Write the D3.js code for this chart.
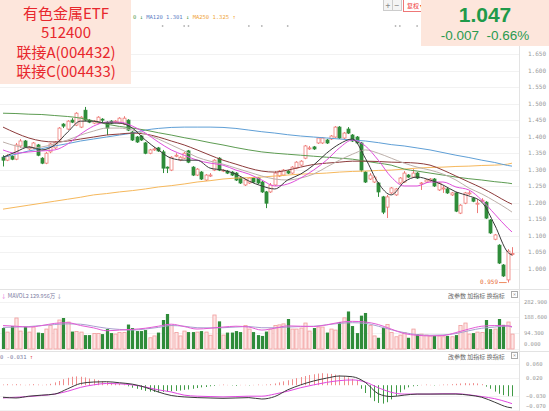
<!DOCTYPE html>
<html>
<head>
<meta charset="utf-8">
<script src="https://cdn.jsdelivr.net/npm/d3@7"></script>
<style>
  body { margin: 0; background: #fff; }
  svg { display: block; font-family: "DejaVu Sans Mono", monospace; }
  .cjk { font-family: "Noto Sans CJK SC", sans-serif; }
</style>
</head>
<body>
<svg id="chart" width="549" height="411"></svg>
<script>
// ---- data ----
var candleOpen = [1.338,1.329,1.341,1.332,1.372,1.387,1.363,1.366,1.375,1.335,1.320,1.354,1.366,1.390,1.438,1.423,1.450,1.435,1.429,1.480,
  1.450,1.441,1.441,1.453,1.444,1.447,1.444,1.441,1.438,1.450,1.414,1.399,1.402,1.381,1.350,1.360,1.366,1.354,1.308,1.299,
  1.341,1.329,1.335,1.357,1.308,1.284,1.293,1.269,1.281,1.299,1.335,1.296,1.296,1.293,1.290,1.275,1.254,1.260,1.275,1.275,
  1.263,1.233,1.233,1.254,1.281,1.284,1.296,1.290,1.305,1.314,1.335,1.363,1.369,1.381,1.381,1.390,1.393,1.399,1.429,1.396,
  1.423,1.405,1.399,1.381,1.293,1.272,1.263,1.260,1.218,1.187,1.230,1.224,1.260,1.263,1.284,1.278,1.290,1.257,1.263,1.266,
  1.272,1.239,1.242,1.242,1.224,1.230,1.169,1.199,1.227,1.214,1.196,1.205,1.202,1.148,1.090,1.072,1.012,0.967,1.045];
var candleClose = [1.329,1.341,1.332,1.375,1.387,1.369,1.369,1.381,1.344,1.320,1.350,1.378,1.384,1.426,1.432,1.447,1.444,1.471,1.459,1.450,
  1.444,1.447,1.459,1.450,1.426,1.441,1.447,1.456,1.456,1.420,1.390,1.384,1.390,1.350,1.360,1.363,1.357,1.305,1.305,1.338,
  1.344,1.338,1.350,1.323,1.284,1.302,1.272,1.284,1.284,1.329,1.299,1.299,1.290,1.284,1.269,1.260,1.269,1.275,1.263,1.260,
  1.233,1.199,1.254,1.290,1.296,1.299,1.290,1.308,1.323,1.326,1.372,1.366,1.363,1.396,1.396,1.381,1.402,1.429,1.396,1.411,
  1.411,1.387,1.381,1.299,1.263,1.284,1.278,1.233,1.172,1.218,1.245,1.242,1.275,1.290,1.278,1.290,1.275,1.260,1.269,1.272,
  1.251,1.260,1.245,1.230,1.230,1.175,1.193,1.230,1.230,1.205,1.199,1.208,1.154,1.109,1.103,1.018,0.979,1.054,1.047];
var candleHigh = [1.344,1.347,1.344,1.381,1.393,1.390,1.372,1.384,1.378,1.338,1.354,1.381,1.387,1.429,1.441,1.450,1.456,1.474,1.462,1.490,
  1.453,1.450,1.462,1.456,1.447,1.450,1.450,1.459,1.462,1.453,1.417,1.402,1.405,1.384,1.363,1.369,1.369,1.360,1.310,1.341,
  1.350,1.341,1.354,1.360,1.311,1.305,1.296,1.287,1.290,1.332,1.338,1.302,1.299,1.296,1.293,1.278,1.272,1.278,1.278,1.278,
  1.266,1.236,1.260,1.296,1.299,1.302,1.299,1.311,1.326,1.329,1.375,1.372,1.372,1.399,1.399,1.393,1.405,1.432,1.432,1.414,
  1.429,1.408,1.402,1.384,1.296,1.290,1.281,1.263,1.221,1.224,1.248,1.245,1.278,1.296,1.287,1.302,1.293,1.263,1.272,1.275,
  1.275,1.263,1.251,1.245,1.233,1.233,1.196,1.233,1.236,1.218,1.211,1.214,1.205,1.151,1.106,1.075,1.015,1.060,1.066];
var candleLow = [1.310,1.326,1.329,1.329,1.366,1.366,1.360,1.363,1.341,1.317,1.317,1.350,1.363,1.387,1.426,1.420,1.441,1.432,1.426,1.447,
  1.441,1.438,1.438,1.444,1.405,1.438,1.441,1.438,1.435,1.417,1.387,1.381,1.387,1.347,1.347,1.357,1.354,1.290,1.290,1.296,
  1.338,1.326,1.332,1.320,1.281,1.281,1.269,1.266,1.278,1.296,1.296,1.293,1.287,1.281,1.266,1.257,1.251,1.257,1.260,1.257,
  1.230,1.184,1.230,1.251,1.278,1.281,1.287,1.287,1.302,1.311,1.332,1.360,1.360,1.378,1.378,1.378,1.390,1.396,1.393,1.393,
  1.408,1.384,1.378,1.293,1.260,1.269,1.260,1.218,1.166,1.154,1.227,1.221,1.257,1.260,1.275,1.275,1.272,1.239,1.260,1.263,
  1.248,1.236,1.230,1.227,1.221,1.172,1.166,1.196,1.224,1.202,1.169,1.202,1.151,1.106,1.087,1.015,0.976,0.959,1.040];
var volume = [125,101,137,185,107,131,101,131,98,95, 119,140,119,173,185,161,104,104,101,83,
  83,92,92,89,119,95,89,98,98,146, 125,107,107,113,67,78,98,173,209,140,
  98,78,107,101,101,101,107,101,82,203, 165,83,98,98,107,101,140,119,101,83,
  78,104,119,140,144,150,179,119,119,125, 155,107,125,131,131,98,119,113,161,186,
  224,137,95,199,215,140,78,67,125,146, 98,73,83,98,67,119,89,89,83,78,
  78,78,73,78,73,83,140,155,89,95, 101,98,173,119,119,179,144,161,89];
var macdHist = [0.002,0.003,0.002,0.003,0.002,0.001,0.002,0.003,0.002,0.001,0.002,
  0.004,0.008,0.012,0.017,0.021,0.024,0.025,0.024,0.022,
  0.019,0.017,0.014,0.011,0.009,0.007,0.005,0.004,0.002,
  -0.003,-0.007,-0.010,-0.013,-0.016,-0.018,-0.019,-0.020,-0.019,-0.018,-0.017,-0.016,-0.015,-0.013,-0.012,-0.010,-0.008,-0.006,-0.005,
  -0.003,-0.002,0.001,0.002,0.001,-0.001,-0.002,0.001,0.001,-0.001,0.001,0.002,0.001,0.002,0.003,
  0.005,0.008,0.011,0.014,0.017,0.020,0.023,0.026,0.029,0.031,0.033,0.034,0.033,0.032,0.030,0.028,0.025,0.022,0.018,0.014,
  -0.010,-0.022,-0.035,-0.045,-0.050,-0.052,-0.048,-0.040,-0.030,-0.020,
  -0.012,-0.006,-0.003,-0.002,0.001,0.002,0.001,-0.001,0.001,0.002,0.002,0.003,
  0.004,0.005,0.006,0.005,0.006,0.005,0.003,
  -0.004,-0.010,-0.018,-0.024,-0.028,-0.031,-0.031];

// line values read every third trading day
var sampleIdx = [0,3,6,9,12,15,18,21,24,27,30,33,36,39,42,45,48,51,54,57,60,63,66,69,72,75,78,81,84,87,90,93,96,99,102,105,108,111,114,117,118];
var ma5 = [1.338,1.354,1.369,1.360,1.375,1.414,1.447,1.447,1.441,1.441,1.426,1.390,1.360,1.335,1.329,1.329,1.305,1.299,1.287,1.266,
  1.251,1.242,1.269,1.287,1.314,1.350,1.378,1.393,1.335,1.260,1.224,1.263,1.278,1.269,1.254,1.233,1.221,1.202,1.133,1.051,1.042];
var ma10 = [1.360,1.350,1.354,1.357,1.360,1.378,1.408,1.432,1.444,1.444,1.432,1.411,1.384,1.360,1.344,1.329,1.320,1.314,1.299,1.287,
  1.269,1.251,1.257,1.275,1.299,1.329,1.366,1.390,1.372,1.329,1.278,1.251,1.251,1.263,1.263,1.248,1.239,1.208,1.166,1.124,1.112];
var ma20 = [1.384,1.372,1.366,1.369,1.378,1.390,1.405,1.417,1.426,1.426,1.420,1.408,1.393,1.375,1.357,1.338,1.326,1.317,1.305,1.293,
  1.281,1.272,1.269,1.275,1.287,1.308,1.329,1.347,1.360,1.350,1.335,1.320,1.308,1.299,1.287,1.269,1.245,1.227,1.205,1.181,1.172];
var ma30 = [1.429,1.411,1.396,1.387,1.384,1.387,1.393,1.399,1.405,1.408,1.411,1.408,1.399,1.387,1.375,1.360,1.344,1.329,1.317,1.305,
  1.296,1.293,1.299,1.308,1.316,1.320,1.323,1.326,1.326,1.325,1.323,1.322,1.320,1.314,1.299,1.281,1.263,1.245,1.224,1.202,1.196];
var ma60 = [1.471,1.470,1.468,1.467,1.464,1.461,1.456,1.447,1.438,1.431,1.426,1.420,1.412,1.405,1.397,1.390,1.382,1.375,1.367,1.360,
  1.354,1.350,1.347,1.344,1.341,1.338,1.335,1.332,1.326,1.320,1.314,1.302,1.296,1.290,1.284,1.278,1.273,1.269,1.264,1.260,1.258];
var ma120 = [1.338,1.347,1.357,1.364,1.372,1.379,1.387,1.393,1.399,1.405,1.411,1.420,1.425,1.428,1.429,1.429,1.429,1.428,1.425,1.420,
  1.415,1.411,1.406,1.402,1.399,1.396,1.393,1.390,1.387,1.382,1.376,1.372,1.366,1.360,1.352,1.344,1.337,1.329,1.322,1.313,1.311];
var ma250 = [1.181,1.187,1.193,1.199,1.205,1.211,1.217,1.224,1.228,1.233,1.237,1.242,1.248,1.252,1.257,1.263,1.267,1.272,1.275,1.276,
  1.278,1.281,1.284,1.287,1.288,1.290,1.293,1.295,1.296,1.298,1.299,1.302,1.305,1.307,1.308,1.310,1.311,1.313,1.314,1.317,1.320];
var mavol1 = [140,136,131,140,153,157,140,126,109,113,117,124,136,148,134,119,124,131,136,131,
  113,124,138,136,134,144,159,165,161,146,119,92,82,78,80,98,119,136,140,138,134];
var mavol2 = [129,131,134,140,146,150,148,136,124,117,113,119,129,140,136,127,126,127,131,134,
  127,127,131,134,136,144,153,157,153,136,115,98,86,82,84,92,109,124,131,138,130];
var dif = [-0.034,-0.036,-0.031,-0.028,-0.025,-0.010,0.005,0.009,0.010,0.007,0.003,-0.006,-0.019,-0.029,-0.033,-0.035,-0.036,-0.037,-0.036,-0.035,
  -0.039,-0.032,-0.013,0.001,0.012,0.020,0.026,0.024,0.008,-0.024,-0.032,-0.028,-0.025,-0.025,-0.025,-0.025,-0.028,-0.034,-0.048,-0.062,-0.064];
var dea = [-0.036,-0.034,-0.032,-0.029,-0.025,-0.017,-0.006,0.001,0.005,0.004,0.001,-0.005,-0.013,-0.019,-0.028,-0.031,-0.032,-0.033,-0.032,-0.031,
  -0.031,-0.025,-0.017,-0.007,0.001,0.008,0.013,0.015,0.009,-0.007,-0.020,-0.025,-0.025,-0.025,-0.024,-0.024,-0.027,-0.032,-0.038,-0.048,-0.052];

var priceTicks = [1.000,1.050,1.100,1.150,1.200,1.250,1.300,1.350,1.400,1.450,1.500,1.550,1.600,1.650];
var volTicks = [0, 94.3, 188.6, 282.9];
var macdTicks = [0.060, 0.020, -0.030, -0.070];
var markIdx = [37, 42, 43, 57, 60, 66, 91, 92, 96];

var nameLines = ["有色金属ETF", "512400", "联接A(004432)", "联接C(004433)"];
var lastPrice = "1.047";
var lastChange = "-0.007  -0.66%";

// ---- scales ----
var svg = d3.select("#chart");
var x = d3.scaleLinear().domain([0, 118]).range([3, 512]);
var yP = d3.scaleLinear().domain([1.0, 1.65]).range([269, 54]);
var yV = d3.scaleLinear().domain([0, 282.9]).range([349, 301.6]);
var yM = d3.scaleLinear().domain([-0.07, 0.06]).range([410, 364]);

var UP = "#ee7a76", UPFILL = "#fff", DOWN = "#2f8c3a";
var VUP = "#f19c9c", VUPFILL = "#fde6e6";

// grid
var grid = svg.append("g").attr("stroke", "#f2f2f2");
priceTicks.forEach(function(t) {
  grid.append("line").attr("x1", 0).attr("x2", 519).attr("y1", Math.round(yP(t)) + 0.5).attr("y2", Math.round(yP(t)) + 0.5);
});
volTicks.forEach(function(t) {
  grid.append("line").attr("x1", 0).attr("x2", 519).attr("y1", Math.round(yV(t)) + 0.5).attr("y2", Math.round(yV(t)) + 0.5);
});
macdTicks.forEach(function(t) {
  grid.append("line").attr("x1", 0).attr("x2", 519).attr("y1", Math.round(yM(t)) + 0.5).attr("y2", Math.round(yM(t)) + 0.5);
});

// panel frames
svg.append("line").attr("x1", 519.5).attr("x2", 519.5).attr("y1", 0).attr("y2", 411).attr("stroke", "#e3e3e3");
svg.append("line").attr("x1", 0).attr("x2", 549).attr("y1", 289.5).attr("y2", 289.5).attr("stroke", "#e3e3e3");
svg.append("line").attr("x1", 0).attr("x2", 549).attr("y1", 351.5).attr("y2", 351.5).attr("stroke", "#e3e3e3");

// ---- main: moving averages ----
function sampled(arr) { return sampleIdx.map(function(k, j) { return [k, arr[j]]; }); }
var priceLine = d3.line().x(function(d) { return x(d[0]); }).y(function(d) { return yP(d[1]); }).curve(d3.curveMonotoneX);
var maSeries = [
  { v: ma250, c: "#f6b85c" },
  { v: ma120, c: "#5f9fd6" },
  { v: ma60, c: "#5d9c52" },
  { v: ma30, c: "#8d3b3b" },
  { v: ma20, c: "#bdb0aa" },
  { v: ma10, c: "#e050dc" },
  { v: ma5, c: "#3a3a3a" }
];

// candles
var cg = svg.append("g");
candleOpen.forEach(function(o, i) {
  var c = candleClose[i], up = c >= o;
  var cx = Math.round(x(i)) + 0.5;
  cg.append("line").attr("x1", cx).attr("x2", cx)
    .attr("y1", yP(candleHigh[i])).attr("y2", yP(candleLow[i]))
    .attr("stroke", up ? UP : DOWN);
  var top = yP(Math.max(o, c)), bot = yP(Math.min(o, c));
  cg.append("rect").attr("x", cx - 1.5).attr("width", 3)
    .attr("y", top).attr("height", Math.max(1, bot - top))
    .attr("fill", up ? UPFILL : DOWN).attr("stroke", up ? UP : DOWN).attr("stroke-width", 0.8);
});

maSeries.forEach(function(s) {
  svg.append("path").attr("d", priceLine(sampled(s.v)))
    .attr("fill", "none").attr("stroke", s.c).attr("stroke-width", 1);
});

// lowest price note
var lowI = d3.minIndex(candleLow);
svg.append("line").attr("x1", 499).attr("x2", x(lowI) - 1).attr("y1", yP(candleLow[lowI])).attr("y2", yP(candleLow[lowI]))
  .attr("stroke", "#e8703a").attr("stroke-width", 0.8);
svg.append("text").attr("x", 498).attr("y", yP(candleLow[lowI]) + 1).attr("text-anchor", "end")
  .attr("font-size", 6).attr("fill", "#e8703a").text(d3.format(".3f")(candleLow[lowI]));

// price axis
svg.append("g").selectAll("text").data(priceTicks).join("text")
  .attr("x", 528).attr("y", function(d) { return yP(d) + 2; })
  .attr("font-size", 6).attr("fill", "#9a9a9a").text(d3.format(".3f"));

// small event marks
svg.append("g").selectAll("circle").data(markIdx).join("circle")
  .attr("cx", function(d) { return x(d); }).attr("cy", 26).attr("r", 0.9).attr("fill", "#b5b5b5");

// MA header
var hdr = svg.append("text").attr("x", 133).attr("y", 19).attr("font-size", 5.5);
hdr.append("tspan").attr("fill", "#5d9c52").text("0 ");
hdr.append("tspan").attr("fill", "#2f8c3a").text("↓ ");
hdr.append("tspan").attr("fill", "#5f7fc6").text("MA120 1.301 ");
hdr.append("tspan").attr("fill", "#2f8c3a").text("↓ ");
hdr.append("tspan").attr("fill", "#f0a53a").text("MA250 1.325 ");
hdr.append("tspan").attr("fill", "#f0a53a").text("↑");

// toolbar buttons
svg.append("rect").attr("x", 383.5).attr("y", -0.5).attr("width", 9).attr("height", 11).attr("fill", "#f4f4f4").attr("stroke", "#ccc");
svg.append("rect").attr("x", 392.5).attr("y", -0.5).attr("width", 9).attr("height", 11).attr("fill", "#f4f4f4").attr("stroke", "#ccc");
svg.append("text").attr("x", 388).attr("y", 8).attr("text-anchor", "middle").attr("font-size", 8).attr("fill", "#888").text("+");
svg.append("text").attr("x", 397).attr("y", 8).attr("text-anchor", "middle").attr("font-size", 8).attr("fill", "#888").text("−");
svg.append("rect").attr("x", 403.5).attr("y", -0.5).attr("width", 24).attr("height", 12).attr("fill", "#fff").attr("stroke", "#e77");
svg.append("text").attr("class", "cjk").attr("x", 407).attr("y", 8).attr("font-size", 6).attr("fill", "#e33").text("复权 ▾");

// ---- volume ----
var vg = svg.append("g");
volume.forEach(function(v, i) {
  var up = candleClose[i] >= candleOpen[i];
  var cx = Math.round(x(i)) + 0.5;
  vg.append("rect").attr("x", cx - 1.6).attr("width", 3.2)
    .attr("y", yV(v)).attr("height", yV(0) - yV(v))
    .attr("fill", up ? VUPFILL : DOWN).attr("stroke", up ? VUP : DOWN).attr("stroke-width", up ? 0.8 : 0);
});
var volLine = d3.line().x(function(d) { return x(d[0]); }).y(function(d) { return yV(d[1]); }).curve(d3.curveMonotoneX);
svg.append("path").attr("d", volLine(sampled(mavol2))).attr("fill", "none").attr("stroke", "#a99fcf").attr("stroke-width", 1);
svg.append("path").attr("d", volLine(sampled(mavol1))).attr("fill", "none").attr("stroke", "#e35ad6").attr("stroke-width", 1);

svg.append("g").selectAll("text").data(volTicks).join("text")
  .attr("x", 524).attr("y", function(d) { return Math.min(yV(d), 344) + 2; })
  .attr("font-size", 5.5).attr("fill", "#9a9a9a").text(d3.format(".3f"));

var vh = svg.append("text").attr("class", "cjk").attr("x", 1).attr("y", 298).attr("font-size", 5.5);
vh.append("tspan").attr("fill", "#e35ad6").text("↓ ");
vh.append("tspan").attr("fill", "#7a7aa0").text("MAVOL2 129.956万 ");
vh.append("tspan").attr("fill", "#7a7aa0").text("↓");

// ---- MACD ----
var mg = svg.append("g");
macdHist.forEach(function(v, i) {
  var cx = Math.round(x(i)) + 0.5;
  mg.append("line").attr("x1", cx).attr("x2", cx).attr("y1", yM(0)).attr("y2", yM(v))
    .attr("stroke", v >= 0 ? "#f08c8c" : "#3f9a45").attr("stroke-width", 1);
});
var macdLine = d3.line().x(function(d) { return x(d[0]); }).y(function(d) { return yM(d[1]); }).curve(d3.curveMonotoneX);
svg.append("path").attr("d", macdLine(sampled(dea))).attr("fill", "none").attr("stroke", "#e048e0").attr("stroke-width", 1);
svg.append("path").attr("d", macdLine(sampled(dif))).attr("fill", "none").attr("stroke", "#3a3a3a").attr("stroke-width", 1);

svg.append("g").selectAll("text").data(macdTicks).join("text")
  .attr("x", 526).attr("y", function(d) { return Math.min(yM(d), 406) + 2; })
  .attr("font-size", 5.5).attr("fill", "#9a9a9a").text(d3.format(".3f"));

var mh = svg.append("text").attr("x", 0).attr("y", 359).attr("font-size", 5.5);
mh.append("tspan").attr("fill", "#7a7aa0").text("0 -0.031 ");
mh.append("tspan").attr("fill", "#e05050").text("↑");

// panel tool links
[298, 359].forEach(function(yy) {
  svg.append("text").attr("class", "cjk").attr("x", 448).attr("y", yy).attr("font-size", 6).attr("fill", "#666")
    .text("改参数  加指标  换指标");
  svg.append("rect").attr("x", 511.5).attr("y", yy - 6.5).attr("width", 6).attr("height", 6)
    .attr("fill", "#fff").attr("stroke", "#aaa");
  svg.append("text").attr("x", 514.5).attr("y", yy - 1.8).attr("text-anchor", "middle").attr("font-size", 5).attr("fill", "#888").text("×");
});

// ---- name box ----
svg.append("rect").attr("x", 0).attr("y", 0).attr("width", 131).attr("height", 84).attr("fill", "#fde6dc");
svg.append("g").selectAll("text").data(nameLines).join("text")
  .attr("class", "cjk").attr("x", 66).attr("y", function(d, i) { return 19 + i * 19.3; })
  .attr("text-anchor", "middle").attr("font-size", 15).attr("fill", "#e8272d").text(function(d) { return d; });

// ---- quote box ----
svg.append("rect").attr("x", 421).attr("y", 0).attr("width", 128).attr("height", 46).attr("fill", "#fde6dc");
svg.append("text").attr("x", 485).attr("y", 22).attr("text-anchor", "middle")
  .attr("font-family", "Liberation Sans, Arial, sans-serif").attr("font-weight", "bold")
  .attr("font-size", 21).attr("fill", "#1f9a4a").text(lastPrice);
svg.append("text").attr("x", 485).attr("y", 40).attr("text-anchor", "middle")
  .attr("font-family", "Liberation Sans, Arial, sans-serif")
  .attr("font-size", 13.5).attr("fill", "#2a9a50").attr("xml:space", "preserve").text(lastChange);
</script>
</body>
</html>
